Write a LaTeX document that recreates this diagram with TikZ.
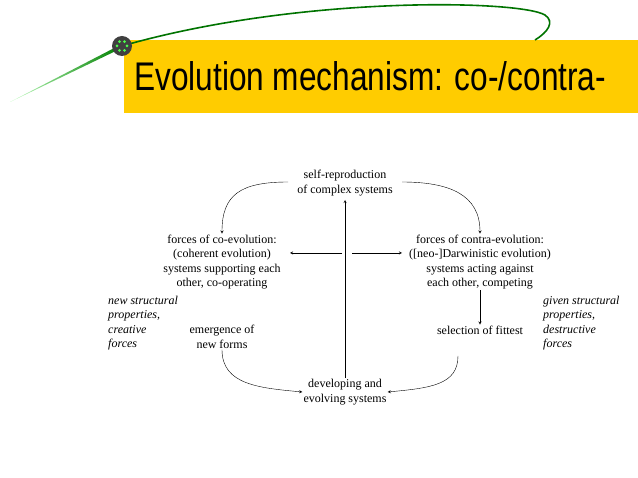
\documentclass[tikz,border=0pt]{standalone}
\usepackage{fontspec}
\setmainfont{Liberation Serif}
\newfontfamily\titlefont{Liberation Sans}
\begin{document}
\begin{tikzpicture}[x=1pt,y=-1pt,
  txt/.style={font=\fontsize{12}{14.5}\selectfont,align=center,inner sep=1pt},
  itx/.style={font=\fontsize{12}{14.5}\selectfont\itshape,align=left,inner sep=0pt,anchor=west},
  arr/.style={-stealth,thin}]
\useasboundingbox (0,0) rectangle (638,478);
\fill[white] (0,0) rectangle (638,478);
\fill[fill={rgb,255:red,255;green,204;blue,0}] (124,40) rectangle (638,113);
\shade[left color=green!40!white!60, right color=green!50!black] (10,102) -- (122,44) -- (122,48) -- cycle;
\draw[green!45!black,line width=1.6pt] (122,46) .. controls (300,-5) and (520,0) .. (545,15) .. controls (555,22) and (548,32) .. (535,40);
\node[circle,fill=black!75,minimum size=20pt,inner sep=0pt] (ball) at (122,46) {};
\foreach \a in {0,60,...,300}{\fill[green!70!white] (ball.center) ++(\a:5) circle (1.5);}
\node[anchor=west,inner sep=0pt] (title) at (134,76) {\titlefont\scalebox{0.79}[1]{\fontsize{40}{42}\selectfont Evolution mechanism: co-/contra-}};
\node[txt] (top) at (345,183) {self-reproduction\\of complex systems};
\node[txt] (left) at (222,262) {forces of co-evolution:\\(coherent evolution)\\systems supporting each\\other, co-operating};
\node[txt] (right) at (480,262) {forces of contra-evolution:\\([neo-]Darwinistic evolution)\\systems acting against\\each other, competing};
\node[txt] (emerg) at (222,337) {emergence of\\new forms};
\node[txt] (sel) at (480,330) {selection of fittest};
\node[txt] (bot) at (345,392) {developing and\\evolving systems};
\node[itx] (il) at (108,323) {new structural\\properties,\\creative\\forces};
\node[itx] (ir) at (543,323) {given structural\\properties,\\destructive\\forces};
\coordinate (tl) at (288,182); \coordinate (tr) at (402,182);
\draw[arr] (tl) .. controls (240,182) and (222,195) .. (left.north);
\draw[arr] (tr) .. controls (450,182) and (480,195) .. (right.north);
\draw[arr] (342,253) -- (290,253);
\draw[arr] (352,253) -- (402,253);
\draw[arr] (bot.north) -- (345,200);
\draw[arr] (right.south) -- (sel.north);
\draw[arr] (emerg.south) .. controls (222,385) and (260,388) .. (bot.west);
\draw[arr] (458,356) .. controls (458,385) and (430,388) .. (bot.east);
\end{tikzpicture}
\end{document}
